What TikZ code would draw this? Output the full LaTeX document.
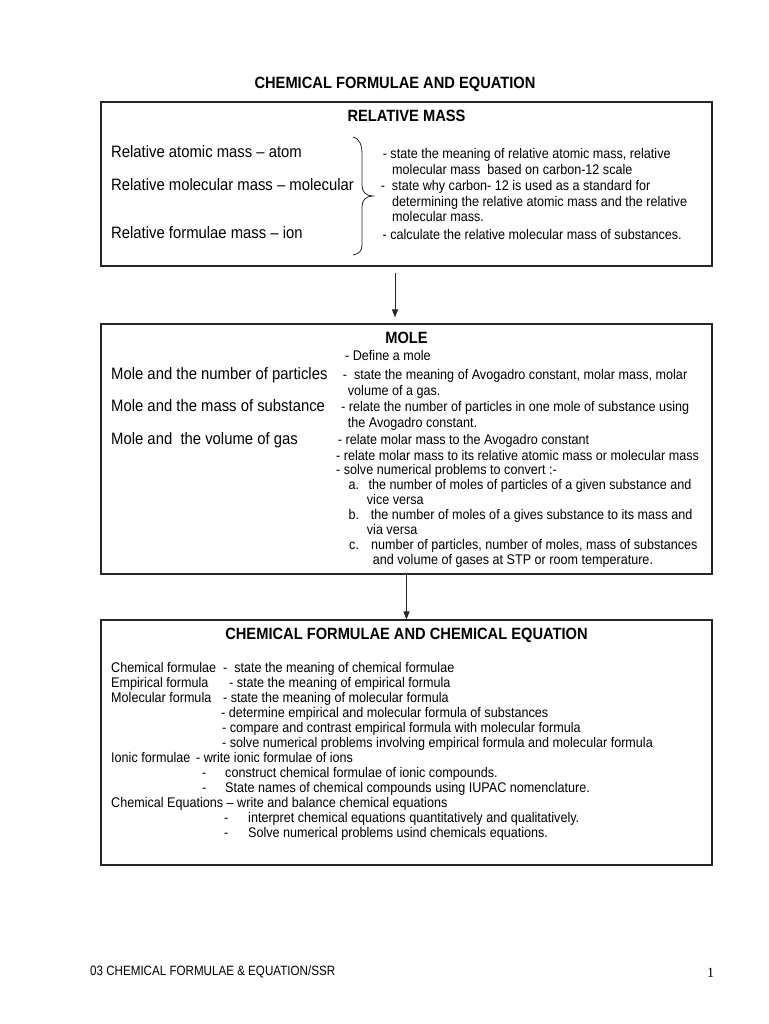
\documentclass[tikz,border=0pt]{standalone}
\usepackage{fontspec}
\setmainfont{Liberation Sans}[FakeStretch=0.9]
\newfontfamily\footfont{Liberation Sans}[FakeStretch=0.86]
\newfontfamily\numfont{Liberation Serif}
\usetikzlibrary{arrows.meta}

\begin{document}
\begin{tikzpicture}[x=1pt,y=-1pt,
    box/.style={draw=black!85,line width=1.2pt,minimum width=611pt,inner sep=0pt},
    txt/.style={anchor=base west,inner sep=0pt,font=\fontsize{14}{15}\selectfont},
    big/.style={anchor=base west,inner sep=0pt,font=\fontsize{16.5}{18}\selectfont},
    head/.style={anchor=base,inner sep=0pt,font=\fontsize{16.3}{18}\selectfont\bfseries},
    link/.style={-{Triangle[width=6pt,length=8pt]},line width=1pt,draw=black!85}]
  \useasboundingbox (0,0) rectangle (768,1024);
  \node[head] (title) at (395,89) {CHEMICAL FORMULAE AND EQUATION};

  % relative mass
  \node[box,minimum height=164pt] (relmass) at (406.5,184) {};
  \node[head] (relhead) at (406.5,122) {RELATIVE MASS};
  \node[big] (ram) at (111,158) {Relative atomic mass – atom};
  \node[big] (rmm) at (111,191) {Relative molecular mass – molecular};
  \node[big] (rfm) at (111,239) {Relative formulae mass – ion};
  \draw[line width=0.8pt,black!85] (353,137) .. controls (360,139) and (362,145) .. (362,155)
    -- (362,185) .. controls (362,192) and (366,196) .. (373,196)
    .. controls (366,196) and (362,200) .. (362,207)
    -- (362,245) .. controls (362,251) and (359,254) .. (353,255);
  \node[txt] (r1) at (382.6,158.5) {- state the meaning of relative atomic mass, relative};
  \node[txt] (r2) at (392,174.5) {molecular mass\ \ based on carbon-12 scale};
  \node[txt] (r3) at (380.6,190.5) {-\ \ state why carbon- 12 is used as a standard for};
  \node[txt] (r4) at (392,206.5) {determining the relative atomic mass and the relative};
  \node[txt] (r5) at (392,221.5) {molecular mass.};
  \node[txt] (r6) at (382.5,239.5) {- calculate the relative molecular mass of substances.};

  % mole
  \node[box,minimum height=250pt] (mole) at (406.5,449) {};
  \node[head] (molehead) at (406.5,343) {MOLE};
  \node[txt] (m0) at (345,360.5) {- Define a mole};
  \node[big] (mnp) at (111,379) {Mole and the number of particles};
  \node[big] (mms) at (111,411) {Mole and the mass of substance};
  \node[big] (mvg) at (111,444) {Mole and\ \ the volume of gas};
  \node[txt] (m1) at (342.7,379.5) {-\ \ state the meaning of Avogadro constant, molar mass, molar};
  \node[txt] (m2) at (347.7,395.5) {volume of a gas.};
  \node[txt] (m3) at (341,411.5) {- relate the number of particles in one mole of substance using};
  \node[txt] (m4) at (347.7,427.5) {the Avogadro constant.};
  \node[txt] (m5) at (337.7,444.5) {- relate molar mass to the Avogadro constant};
  \node[txt] (m6) at (336,460.5) {- relate molar mass to its relative atomic mass or molecular mass};
  \node[txt] (m7) at (336,474.5) {- solve numerical problems to convert :-};
  \node[txt] (ma) at (348.3,489.5) {a.};
  \node[txt] (mat) at (368.3,489.5) {the number of moles of particles of a given substance and};
  \node[txt] (mav) at (366.7,504.5) {vice versa};
  \node[txt] (mb) at (348.3,519.5) {b.};
  \node[txt] (mbt) at (370.7,519.5) {the number of moles of a gives substance to its mass and};
  \node[txt] (mbv) at (366.7,534.5) {via versa};
  \node[txt] (mc) at (349,549.5) {c.};
  \node[txt] (mct) at (371,549.5) {number of particles, number of moles, mass of substances};
  \node[txt] (mcv) at (372.7,564.5) {and volume of gases at STP or room temperature.};

  % chemical formulae and equation
  \node[box,minimum height=245pt] (chemeq) at (406.5,742.5) {};
  \node[head] (chemhead) at (406.5,639) {CHEMICAL FORMULAE AND CHEMICAL EQUATION};
  \node[txt] (c1) at (111,672.5) {Chemical formulae};
  \node[txt] (c1d) at (223,672.5) {-\ \ state the meaning of chemical formulae};
  \node[txt] (c2) at (111,687.5) {Empirical formula};
  \node[txt] (c2d) at (229,687.5) {- state the meaning of empirical formula};
  \node[txt] (c3) at (111,702.5) {Molecular formula};
  \node[txt] (c3d) at (223,702.5) {- state the meaning of molecular formula};
  \node[txt] (c4) at (221,717.5) {- determine empirical and molecular formula of substances};
  \node[txt] (c5) at (222,732.5) {- compare and contrast empirical formula with molecular formula};
  \node[txt] (c6) at (222,747.5) {- solve numerical problems involving empirical formula and molecular formula};
  \node[txt] (c7) at (111,762.5) {Ionic formulae};
  \node[txt] (c7d) at (196,762.5) {- write ionic formulae of ions};
  \node[txt] (c8a) at (202,777.5) {-};
  \node[txt] (c8) at (225,777.5) {construct chemical formulae of ionic compounds.};
  \node[txt] (c9a) at (202,792.5) {-};
  \node[txt] (c9) at (225,792.5) {State names of chemical compounds using IUPAC nomenclature.};
  \node[txt] (c10) at (111,807.5) {Chemical Equations – write and balance chemical equations};
  \node[txt] (c11a) at (224,822.5) {-};
  \node[txt] (c11) at (248,822.5) {interpret chemical equations quantitatively and qualitatively.};
  \node[txt] (c12a) at (224,837.5) {-};
  \node[txt] (c12) at (248,837.5) {Solve numerical problems usind chemicals equations.};

  \draw[link] ([xshift=-11.5pt,yshift=-6pt]relmass.south) -- ([xshift=-11.5pt,yshift=6pt]mole.north);
  \draw[link] (mole.south) -- (chemeq.north);

  \node[anchor=base west,inner sep=0pt,font=\footfont\fontsize{13.5}{14}\selectfont] (foot) at (90,975) {03 CHEMICAL FORMULAE \& EQUATION/SSR};
  \node[anchor=base west,inner sep=0pt,font=\numfont\fontsize{14}{15}\selectfont] (pageno) at (707,977) {1};
\end{tikzpicture}
\end{document}
